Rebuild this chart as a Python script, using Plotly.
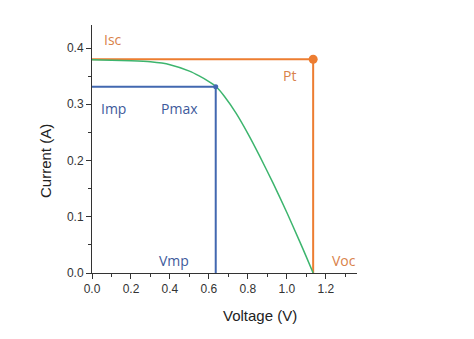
import plotly.graph_objects as go

# I-V curve
voltage = [0.0, 0.1, 0.2, 0.3, 0.4, 0.5, 0.55, 0.6, 0.635, 0.68, 0.74, 0.8, 0.86, 0.93, 1.0, 1.06, 1.10, 1.135]
current = [0.379, 0.3785, 0.3775, 0.3755, 0.3705, 0.359, 0.3505, 0.3405, 0.332, 0.3139, 0.2839, 0.2479, 0.2083, 0.1593, 0.1075, 0.0607, 0.0287, 0.0]

isc = 0.38
voc = 1.135
imp = 0.331
vmp = 0.635

orange = "#ED7D31"
blue = "#4268B0"
green = "#3DB56E"
orange_txt = "#D9824A"
blue_txt = "#3E5A9B"

fig = go.Figure()
fig.add_trace(go.Scatter(x=[0, voc, voc], y=[isc, isc, 0], mode="lines",
                         line=dict(color=orange, width=2), hoverinfo="skip"))
fig.add_trace(go.Scatter(x=[0, vmp, vmp], y=[imp, imp, 0], mode="lines",
                         line=dict(color=blue, width=2), hoverinfo="skip"))
fig.add_trace(go.Scatter(x=voltage, y=current, mode="lines",
                         line=dict(color=green, width=1.5, shape="spline", smoothing=0.6)))
fig.add_trace(go.Scatter(x=[voc], y=[isc], mode="markers",
                         marker=dict(color=orange, size=9)))
fig.add_trace(go.Scatter(x=[vmp], y=[imp], mode="markers",
                         marker=dict(color=blue, size=5)))

lab_font = "Open Sans, Noto Sans, sans-serif"
labels = [
    ("Isc", 0.11, 0.416, orange_txt),
    ("Imp", 0.108, 0.293, blue_txt),
    ("Pmax", 0.449, 0.293, blue_txt),
    ("Pt", 1.013, 0.352, orange_txt),
    ("Vmp", 0.423, 0.023, blue_txt),
    ("Voc", 1.295, 0.023, orange_txt),
]
for t, x, y, c in labels:
    fig.add_annotation(text=t, x=x, y=y, xref="x", yref="y", showarrow=False,
                       xanchor="center", yanchor="middle",
                       font=dict(family=lab_font, size=14, color=c))

W, H = 474, 339
ml, mr, mt, mb = 92, 117, 25, 66
pw, ph = W - ml - mr, H - mt - mb


def px(x, y):
    return (x - ml) / pw, 1 - (y - mt) / ph


cx, cy = px(45, 161)
fig.add_annotation(text="Current (A)", x=cx, y=cy, xref="paper", yref="paper",
                   showarrow=False, textangle=-90, xanchor="center", yanchor="middle",
                   font=dict(family="Liberation Sans, Arial", size=15, color="#222"))
vx, vy = px(260, 315)
fig.add_annotation(text="Voltage (V)", x=vx, y=vy, xref="paper", yref="paper",
                   showarrow=False, xanchor="center", yanchor="middle",
                   font=dict(family="Liberation Sans, Arial", size=15, color="#222"))

axis_common = dict(showgrid=False, zeroline=False, showline=True, linecolor="#333",
                   linewidth=1, ticks="outside", ticklen=5, tickcolor="#333",
                   tickformat=".1f",
                   tickfont=dict(family="Liberation Sans, Arial", size=12, color="#333"))
fig.update_layout(
    width=W, height=H, margin=dict(l=ml, r=mr, t=mt, b=mb),
    paper_bgcolor="white", plot_bgcolor="white", showlegend=False,
    xaxis=dict(range=[0, 1.36], dtick=0.2, tick0=0,
               minor=dict(ticks="outside", ticklen=3, dtick=0.1, tickcolor="#333"),
               **axis_common),
    yaxis=dict(range=[0, 0.441], dtick=0.1, tick0=0,
               minor=dict(ticks="outside", ticklen=3, dtick=0.05, tickcolor="#333"),
               **axis_common),
)
for tr in fig.data:
    tr.cliponaxis = False

fig.write_html("out.html")
